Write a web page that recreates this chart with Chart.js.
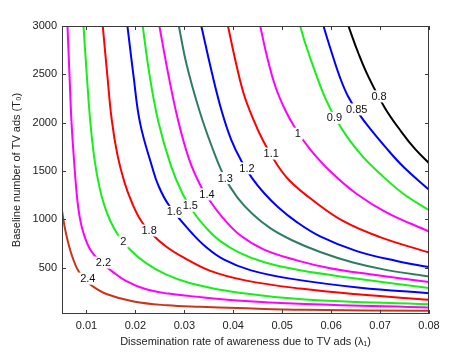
<!DOCTYPE html>
<html><head><meta charset="utf-8">
<script src="https://cdn.jsdelivr.net/npm/chart.js@4/dist/chart.umd.min.js"></script>
<style>html,body{margin:0;padding:0;background:#fff;}#wrap{width:474px;height:356px;position:relative;}</style>
</head><body><div id="wrap"><canvas id="c"></canvas></div>
<script>
// Contour levels (labels)
const levels = ['2.4','2.2','2','1.8','1.6','1.5','1.4','1.3','1.2','1.1','1','0.9','0.85','0.8'];

// Points: lambda_1 (x) and T0 (y)
const lambda_2_4 = [0.005, 0.00571, 0.00673, 0.00806, 0.00939, 0.01116, 0.01422, 0.01965, 0.02647, 0.03327, 0.04082, 0.05469, 0.08];
const T0_2_4     = [1086, 879, 672, 492, 391, 311, 224, 149, 110, 94, 82, 64, 53];
const lambda_2_2 = [0.00612, 0.00653, 0.00694, 0.00745, 0.00786, 0.00827, 0.00888, 0.00969, 0.01061, 0.01184, 0.01347, 0.01531, 0.01796, 0.02204, 0.02673, 0.03122, 0.04082, 0.05469, 0.08];
const T0_2_2     = [3000, 2494, 2008, 1616, 1347, 1140, 954, 810, 701, 614, 531, 459, 366, 278, 231, 205, 159, 123, 87];
const lambda_2   = [0.00939, 0.01006, 0.01076, 0.01163, 0.01265, 0.01367, 0.0149, 0.01653, 0.01898, 0.02204, 0.02612, 0.03122, 0.04082, 0.05469, 0.08];
const T0_2       = [3000, 2496, 2022, 1622, 1333, 1141, 980, 832, 683, 552, 432, 339, 242, 171, 120];
const lambda_1_8 = [0.01333, 0.01429, 0.01516, 0.01633, 0.01776, 0.01939, 0.02122, 0.02347, 0.02633, 0.0300, 0.03531, 0.04245, 0.05367, 0.06592, 0.08];
const T0_1_8     = [3000, 2475, 2031, 1666, 1384, 1161, 979, 843, 716, 600, 466, 368, 283, 221, 167];
const lambda_1_6 = [0.01837, 0.01959, 0.02096, 0.02347, 0.02469, 0.02673, 0.03122, 0.03449, 0.03802, 0.04347, 0.05163, 0.06592, 0.08];
const T0_1_6     = [3000, 2494, 1995, 1533, 1350, 1154, 875, 710, 585, 474, 386, 292, 235];
const lambda_1_5 = [0.02149, 0.02286, 0.02469, 0.02729, 0.02959, 0.03184, 0.03429, 0.03735, 0.04143, 0.04653, 0.05367, 0.06388, 0.08];
const T0_1_5     = [3000, 2502, 2009, 1550, 1270, 1076, 921, 774, 650, 552, 472, 395, 288];
const lambda_1_4 = [0.0249, 0.02673, 0.02878, 0.03102, 0.03327, 0.03551, 0.03802, 0.04143, 0.04618, 0.0530, 0.0598, 0.06796, 0.08];
const T0_1_4     = [3000, 2498, 2012, 1615, 1353, 1171, 1006, 834, 689, 575, 493, 431, 351];
const lambda_1_3 = [0.02888, 0.03041, 0.03306, 0.03571, 0.03816, 0.04082, 0.04388, 0.04755, 0.0520, 0.05776, 0.06449, 0.07143, 0.08];
const T0_1_3     = [3000, 2613, 2129, 1740, 1442, 1227, 1057, 908, 783, 661, 552, 474, 409];
const lambda_1_2 = [0.03347, 0.03565, 0.03769, 0.03959, 0.04163, 0.04388, 0.04633, 0.04918, 0.05265, 0.05776, 0.06524, 0.07341, 0.08];
const T0_1_2     = [3000, 2513, 2110, 1822, 1605, 1423, 1269, 1124, 983, 823, 671, 568, 505];
const lambda_1_1 = [0.03892, 0.04041, 0.0421, 0.04414, 0.04618, 0.04898, 0.05163, 0.05639, 0.06251, 0.07, 0.08];
const T0_1_1     = [3000, 2649, 2305, 2029, 1805, 1564, 1394, 1192, 980, 815, 655];
const lambda_1   = [0.04551, 0.04688, 0.04857, 0.05061, 0.05286, 0.05571, 0.0598, 0.06524, 0.07137, 0.08];
const T0_1       = [3000, 2688, 2379, 2131, 1927, 1724, 1497, 1262, 1070, 874];
const lambda_0_9 = [0.05367, 0.05469, 0.05673, 0.05878, 0.06082, 0.06327, 0.06633, 0.07, 0.07476, 0.08];
const T0_0_9     = [3000, 2824, 2525, 2256, 2050, 1853, 1657, 1471, 1264, 1094];
const lambda_0_85= [0.05843, 0.06014, 0.06184, 0.06347, 0.06551, 0.06796, 0.07102, 0.07476, 0.08];
const T0_0_85    = [3000, 2721, 2463, 2270, 2104, 1937, 1751, 1543, 1305];
const lambda_0_8 = [0.06353, 0.06557, 0.06761, 0.07102, 0.07443, 0.07714, 0.08];
const T0_0_8     = [3000, 2718, 2476, 2150, 1900, 1728, 1580];

// Where each contour label sits
const labelLambda = [0.01027, 0.01347, 0.01755, 0.0228, 0.02796, 0.03122, 0.03463, 0.03837, 0.0428, 0.04776, 0.0532, 0.06067, 0.06524, 0.0698];
const labelT0     = [386, 552, 770, 884, 1077, 1140, 1258, 1426, 1527, 1680, 1885, 2050, 2137, 2272];

// Tick labels
const xTicks = [0.01, 0.02, 0.03, 0.04, 0.05, 0.06, 0.07, 0.08];
const yTicks = [500, 1000, 1500, 2000, 2500, 3000];

const series = [
  [lambda_2_4, T0_2_4], [lambda_2_2, T0_2_2], [lambda_2, T0_2], [lambda_1_8, T0_1_8],
  [lambda_1_6, T0_1_6], [lambda_1_5, T0_1_5], [lambda_1_4, T0_1_4], [lambda_1_3, T0_1_3],
  [lambda_1_2, T0_1_2], [lambda_1_1, T0_1_1], [lambda_1, T0_1], [lambda_0_9, T0_0_9],
  [lambda_0_85, T0_0_85], [lambda_0_8, T0_0_8]
];
const colors = ['#c8361a','#ff00ff','#19ee19','#ff0000','#0000ff','#19ee19','#ff00ff','#2f7d5f','#0000ff','#ff0000','#ff00ff','#19ee19','#0000ff','#000000'];

const FONT = '"Liberation Sans", Arial, Helvetica, sans-serif';

const datasets = series.map((s, i) => ({
  label: levels[i],
  data: s[0].map((v, k) => ({x: v, y: s[1][k]})),
  borderColor: colors[i],
  borderWidth: 2,
  pointRadius: 0,
  fill: false,
  tension: 0.4
}));

const framePlugin = {
  id: 'frame',
  afterDatasetsDraw(chart) {
    const {ctx, chartArea: a, scales: {x, y}} = chart;
    ctx.save();
    ctx.font = '11px ' + FONT;
    ctx.textAlign = 'center';
    ctx.textBaseline = 'middle';
    levels.forEach((lv, i) => {
      const px = x.getPixelForValue(labelLambda[i]);
      const py = y.getPixelForValue(labelT0[i]);
      const w = ctx.measureText(lv).width;
      ctx.fillStyle = '#ffffff';
      ctx.fillRect(px - w / 2 - 2, py - 6, w + 4, 12);
      ctx.fillStyle = '#111111';
      ctx.fillText(lv, px, py + 0.5);
    });
    ctx.strokeStyle = '#3a3a3a';
    ctx.lineWidth = 1;
    ctx.strokeRect(Math.round(a.left) + 0.5, Math.round(a.top) + 0.5, Math.round(a.right - a.left) - 1, Math.round(a.bottom - a.top) - 1);
    ctx.beginPath();
    const L = 4;
    xTicks.forEach(v => {
      const px = Math.round(x.getPixelForValue(v)) + 0.5;
      ctx.moveTo(px, a.bottom); ctx.lineTo(px, a.bottom - L);
      ctx.moveTo(px, a.top); ctx.lineTo(px, a.top + L);
    });
    yTicks.forEach(v => {
      const py = Math.round(y.getPixelForValue(v)) + 0.5;
      ctx.moveTo(a.left, py); ctx.lineTo(a.left + L, py);
      ctx.moveTo(a.right, py); ctx.lineTo(a.right - L, py);
    });
    ctx.stroke();
    ctx.restore();
  }
};

new Chart(document.getElementById('c'), {
  type: 'line',
  data: {datasets},
  plugins: [framePlugin],
  options: {
    responsive: true,
    maintainAspectRatio: false,
    animation: false,
    layout: {padding: {left: 0, top: 26, right: 45, bottom: 0}},
    plugins: {legend: {display: false}, tooltip: {enabled: false}},
    scales: {
      x: {
        type: 'linear', min: 0.005, max: 0.08,
        grid: {display: false, drawTicks: false},
        border: {display: false},
        afterBuildTicks: s => { s.ticks = xTicks.map(v => ({value: v})); },
        afterFit: s => { s.height = 42; },
        ticks: {color: '#222', font: {family: FONT, size: 11}, padding: 5, maxRotation: 0,
          callback: v => String(v)},
        title: {display: true, text: 'Dissemination rate of awareness due to TV ads (\u03bb\u2081)',
          color: '#222', font: {family: FONT, size: 11}, padding: {top: 0, bottom: 7}}
      },
      y: {
        type: 'linear', min: 20, max: 3000,
        grid: {display: false, drawTicks: false},
        border: {display: false},
        afterBuildTicks: s => { s.ticks = yTicks.map(v => ({value: v})); },
        afterFit: s => { s.width = 62; },
        ticks: {color: '#222', font: {family: FONT, size: 11}, padding: 5,
          callback: v => String(v)},
        title: {display: true, text: 'Baseline number of TV ads (T\u2080)',
          color: '#222', font: {family: FONT, size: 11}, padding: {top: 10, bottom: 0}}
      }
    }
  }
});
</script>
</body></html>
